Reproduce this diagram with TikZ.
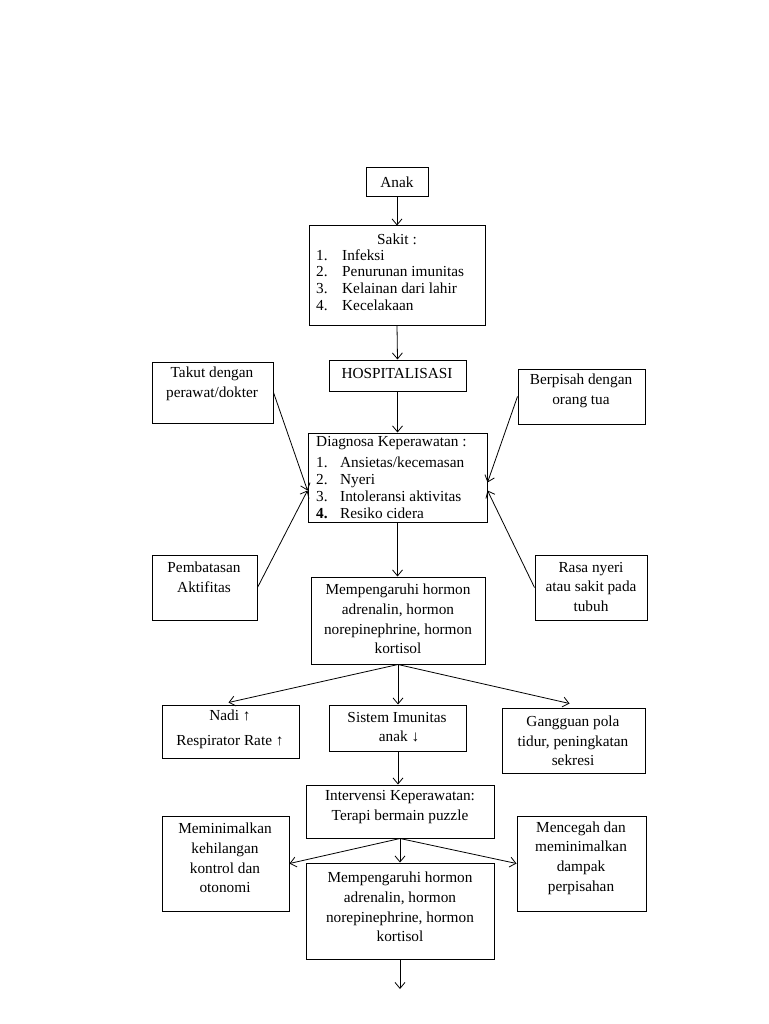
\documentclass[tikz,border=0pt]{standalone}
\usepackage{fontspec}
\setmainfont{Liberation Serif}
\usetikzlibrary{arrows.meta,fit,calc}
\begin{document}
\begin{tikzpicture}[x=1pt,y=-1pt,
  bx/.style={draw=black, line width=1pt, inner sep=0pt},
  txt/.style={inner sep=0pt, align=center, font=\fontsize{15.3}{19.6}\selectfont},
  lst/.style={inner sep=0pt, align=left},
  arr/.style={line width=0.8pt, -{Straight Barb[length=6pt,width=10pt,line width=0.8pt]}}]
\useasboundingbox[fill=white] (0,0) rectangle (768,1024);

% boxes
\node[bx, fit={(366,168)(428,197)}] (anak) {};
\node[bx, fit={(309,226)(485,325)}] (sakit) {};
\node[bx, fit={(329,360)(466,391)}] (hosp) {};
\node[bx, fit={(152,362)(273,423)}] (takut) {};
\node[bx, fit={(518,369)(645,424)}] (pisah) {};
\node[bx, fit={(308,433)(487,522)}] (diag) {};
\node[bx, fit={(152,555)(257,620)}] (batas) {};
\node[bx, fit={(535,555)(647,620)}] (nyeri) {};
\node[bx, fit={(311,577)(485,664)}] (hormA) {};
\node[bx, fit={(162,705)(299,758)}] (nadi) {};
\node[bx, fit={(329,705)(466,751)}] (imun) {};
\node[bx, fit={(502,708)(645,773)}] (tidur) {};
\node[bx, fit={(306,785)(494,838)}] (interv) {};
\node[bx, fit={(162,816)(289,911)}] (kontrol) {};
\node[bx, fit={(517,816)(646,911)}] (cegah) {};
\node[bx, fit={(306,863)(494,959)}] (hormB) {};

% texts
\node[txt] (anak-t) at (397,182) {Anak};
\node[txt] (sakit-h) at (397,239) {Sakit :};
\node[lst, anchor=west, font=\fontsize{15.3}{16.6}\selectfont] (sakit-l) at (316,280)
  {\makebox[26pt][l]{1.}Infeksi\\ \makebox[26pt][l]{2.}Penurunan imunitas\\ \makebox[26pt][l]{3.}Kelainan dari lahir\\ \makebox[26pt][l]{4.}Kecelakaan};
\node[txt] (hosp-t) at (397,374) {HOSPITALISASI};
\node[txt] (takut-t) at (212,384) {Takut dengan\\perawat/dokter};
\node[txt] (pisah-t) at (581,391) {Berpisah dengan\\orang tua};
\node[lst, anchor=west, font=\fontsize{15.3}{17}\selectfont] (diag-h) at (316,443) {Diagnosa Keperawatan :};
\node[lst, anchor=west, font=\fontsize{15.3}{17}\selectfont] (diag-l) at (316,488)
  {\makebox[24pt][l]{1.}Ansietas/kecemasan\\ \makebox[24pt][l]{2.}Nyeri\\ \makebox[24pt][l]{3.}Intoleransi aktivitas\\ \makebox[24pt][l]{\textbf{4.}}Resiko cidera};
\node[txt] (batas-t) at (204,577) {Pembatasan\\Aktifitas};
\node[txt] (nyeri-t) at (591,587) {Rasa nyeri\\atau sakit pada\\tubuh};
\node[txt] (hormA-t) at (398,619) {Mempengaruhi hormon\\adrenalin, hormon\\norepinephrine, hormon\\kortisol};
\node[txt, font=\fontsize{15.3}{25}\selectfont] (nadi-t) at (230,729) {Nadi ↑\\Respirator Rate ↑};
\node[txt] (imun-t) at (397,727) {Sistem Imunitas\\\hspace*{4pt}anak ↓};
\node[txt] (tidur-t) at (573,741) {Gangguan pola\\tidur, peningkatan\\sekresi};
\node[txt] (interv-t) at (400,807) {Intervensi Keperawatan:\\Terapi bermain puzzle};
\node[txt] (kontrol-t) at (225,858) {Meminimalkan\\kehilangan\\kontrol dan\\otonomi};
\node[txt] (cegah-t) at (581,858) {Mencegah dan\\meminimalkan\\dampak\\perpisahan};
\node[txt] (hormB-t) at (400,907) {Mempengaruhi hormon\\adrenalin, hormon\\norepinephrine, hormon\\kortisol};

% connection points
\coordinate (dL) at ([yshift=-13pt]diag.west);
\coordinate (dR1) at ([yshift=-5pt]diag.east);
\coordinate (dR2) at ([yshift=-13pt]diag.east);
\coordinate (endpt) at (400,989);

% connectors
\draw[arr] (anak.south) -- (sakit.north -| anak.south);
\draw[arr] (sakit.south) -- (hosp.north);
\draw[arr] (hosp.south) -- (diag.north -| hosp.south);
\draw[arr] (takut.east) -- (dL);
\draw[arr] (batas.east) -- (dL);
\draw[arr] (pisah.west) -- (dR1);
\draw[arr] (nyeri.west) -- (dR2);
\draw[arr] (diag.south) -- (hormA.north -| diag.south);
\draw[arr] (hormA.south) -- ([xshift=-2pt,yshift=2pt]nadi.north);
\draw[arr] (hormA.south) -- (imun.north -| hormA.south);
\draw[arr] (hormA.south) -- ([xshift=-4pt,yshift=4pt]tidur.north);
\draw[arr] (imun.south -| hormA.south) -- (interv.north -| hormA.south);
\draw[arr] (interv.south) -- (kontrol.east);
\draw[arr] (interv.south) -- (hormB.north);
\draw[arr] (interv.south) -- (cegah.west);
\draw[arr] (hormB.south) -- (endpt);
\end{tikzpicture}
\end{document}
